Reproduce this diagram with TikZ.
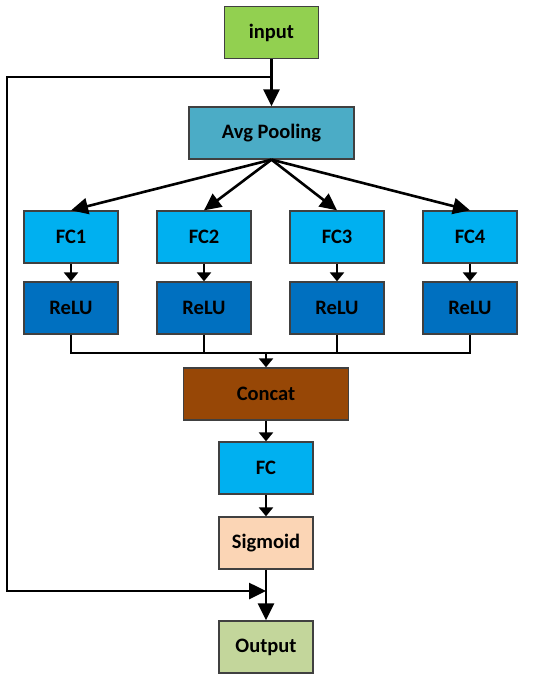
\documentclass[tikz,border=0pt]{standalone}
\usepackage{fontspec}
\setmainfont{Carlito}
\usetikzlibrary{arrows.meta}

\definecolor{inputgreen}{HTML}{92D050}
\definecolor{poolteal}{HTML}{4BACC6}
\definecolor{fcblue}{HTML}{00B0F0}
\definecolor{reludark}{HTML}{0070C0}
\definecolor{concatbrown}{HTML}{974706}
\definecolor{sigpeach}{HTML}{FBD5B5}
\definecolor{outgreen}{HTML}{C3D69B}

\begin{document}
\begin{tikzpicture}[x=1pt,y=-1pt,line width=2.6pt,
                    big/.style={-{Triangle[length=17pt,width=16pt]}},
                    small/.style={-{Triangle[length=9pt,width=14pt]}},
                    block/.style={draw=black!75,line width=1.3pt,inner sep=0pt,
                      minimum width=94pt,minimum height=52pt,
                      font=\fontsize{20.5}{24}\selectfont\bfseries}]

  \useasboundingbox (0,0) rectangle (550,681);

  \node[block,fill=inputgreen] (input) at (271.5,32.5) {input};
  \node[block,fill=poolteal,minimum width=165pt] (pool) at (271.5,133) {Avg Pooling};

  \node[block,fill=fcblue] (fc1) at (71,237) {FC1};
  \node[block,fill=fcblue] (fc2) at (204,237) {FC2};
  \node[block,fill=fcblue] (fc3) at (337,237) {FC3};
  \node[block,fill=fcblue] (fc4) at (470,237) {FC4};

  \node[block,fill=reludark] (relu1) at (71,308) {ReLU};
  \node[block,fill=reludark] (relu2) at (204,308) {ReLU};
  \node[block,fill=reludark] (relu3) at (337,308) {ReLU};
  \node[block,fill=reludark] (relu4) at (470,308) {ReLU};

  \node[block,fill=concatbrown,minimum width=165pt] (concat) at (266,394) {Concat};
  \node[block,fill=fcblue] (fc) at (266,468) {FC};
  \node[block,fill=sigpeach] (sig) at (266,543) {Sigmoid};
  \node[block,fill=outgreen] (output) at (266,647) {Output};

  \coordinate (split) at (271.5,77);
  \coordinate (bus) at (266,353);
  \coordinate (merge) at (266,591);

  % main path
  \draw[big] (input) -- (pool);
  \draw[big] (pool.south) -- (fc1.north);
  \draw[big] (pool.south) -- (fc2.north);
  \draw[big] (pool.south) -- (fc3.north);
  \draw[big] (pool.south) -- (fc4.north);

  \draw[small] (fc1) -- (relu1);
  \draw[small] (fc2) -- (relu2);
  \draw[small] (fc3) -- (relu3);
  \draw[small] (fc4) -- (relu4);

  % concat bus
  \draw (relu1.south) |- (bus) -| (relu4.south);
  \draw (relu2.south) -- (relu2.south |- bus);
  \draw (relu3.south) -- (relu3.south |- bus);
  \draw[small] (bus) -- (concat);

  \draw[small] (concat) -- (fc);
  \draw[small] (fc) -- (sig);
  \draw[big] (sig) -- (output);

  % skip connection
  \draw[big] (split) -- (7,77) -- (7,591) -- (merge);

\end{tikzpicture}
\end{document}
